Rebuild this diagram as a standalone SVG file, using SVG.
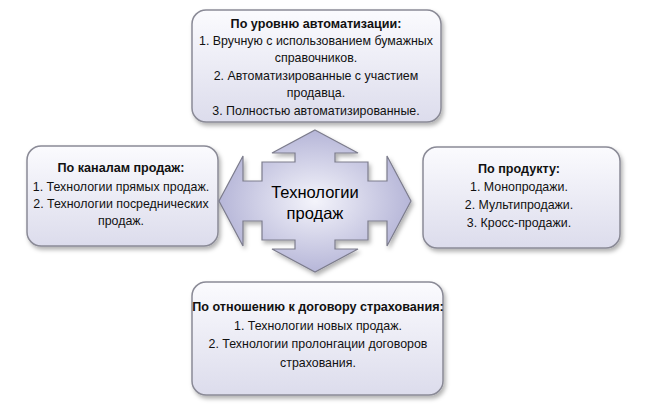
<svg xmlns="http://www.w3.org/2000/svg" width="646" height="415" viewBox="0 0 646 415">
<style>
.box{fill:url(#bg);stroke:#8a8a96;stroke-width:1.5}
text{font-family:"Liberation Sans",Arial,sans-serif;font-size:12.4px;fill:#111;text-anchor:middle}
.t{font-weight:bold;font-size:12.6px}
</style>
<defs>
<linearGradient id="bg" x1="0" y1="0" x2="0" y2="1"><stop offset="0" stop-color="#fbfbfe"/><stop offset="1" stop-color="#dcdcec"/></linearGradient>
<radialGradient id="ag" cx="0.5" cy="0.5" r="0.5"><stop offset="0" stop-color="#f4f4fb"/><stop offset="1" stop-color="#b6b6d8"/></radialGradient>
<filter id="sh" x="-10%" y="-10%" width="130%" height="130%"><feDropShadow dx="2" dy="3" stdDeviation="2" flood-color="#000" flood-opacity="0.3"/></filter>
</defs>
<rect width="646" height="415" fill="#fff"/>
<g id="top"><rect class="box" filter="url(#sh)" x="192" y="10" width="249" height="112" rx="14"/>
<text class="t" x="316" y="28">По уровню автоматизации:</text>
<text x="316" y="45">1. Вручную с использованием бумажных</text>
<text x="316" y="62">справочников.</text>
<text x="316" y="80">2. Автоматизированные с участием</text>
<text x="316" y="97">продавца.</text>
<text x="316" y="115">3. Полностью автоматизированные.</text></g>
<g id="left"><rect class="box" filter="url(#sh)" x="27" y="146" width="191" height="100" rx="14"/>
<text class="t" x="121" y="172">По каналам продаж:</text>
<text x="121" y="191">1. Технологии прямых продаж.</text>
<text x="121" y="208">2. Технологии посреднических</text>
<text x="121" y="225">продаж.</text></g>
<g id="right"><rect class="box" filter="url(#sh)" x="423" y="147" width="197" height="101" rx="14"/>
<text class="t" x="519" y="173">По продукту:</text>
<text x="519" y="191">1. Монопродажи.</text>
<text x="519" y="209">2. Мультипродажи.</text>
<text x="519" y="227">3. Кросс-продажи.</text></g>
<g id="bottom"><rect class="box" filter="url(#sh)" x="192" y="282" width="251" height="113" rx="14"/>
<text class="t" x="318" y="311">По отношению к договору страхования:</text>
<text x="318" y="330">1. Технологии новых продаж.</text>
<text x="318" y="348">2. Технологии пролонгации договоров</text>
<text x="318" y="367">страхования.</text></g>
<g id="connectors"></g>
<g id="center"><polygon filter="url(#sh)" fill="url(#ag)" stroke="#7c7c8c" stroke-width="1.2" points="315,130 358,153 335,153 335,162 368,162 368,181 387,181 387,156 411,201 387,246 387,221 368,221 368,240 335,240 335,249 358,249 315,272 272,249 295,249 295,240 262,240 262,221 243,221 243,246 219,201 243,156 243,181 262,181 262,162 295,162 295,153 272,153"/>
<text x="315" y="198" style="font-size:16.5px;fill:#000">Технологии</text>
<text x="315" y="219" style="font-size:16.5px;fill:#000">продаж</text></g>
</svg>
